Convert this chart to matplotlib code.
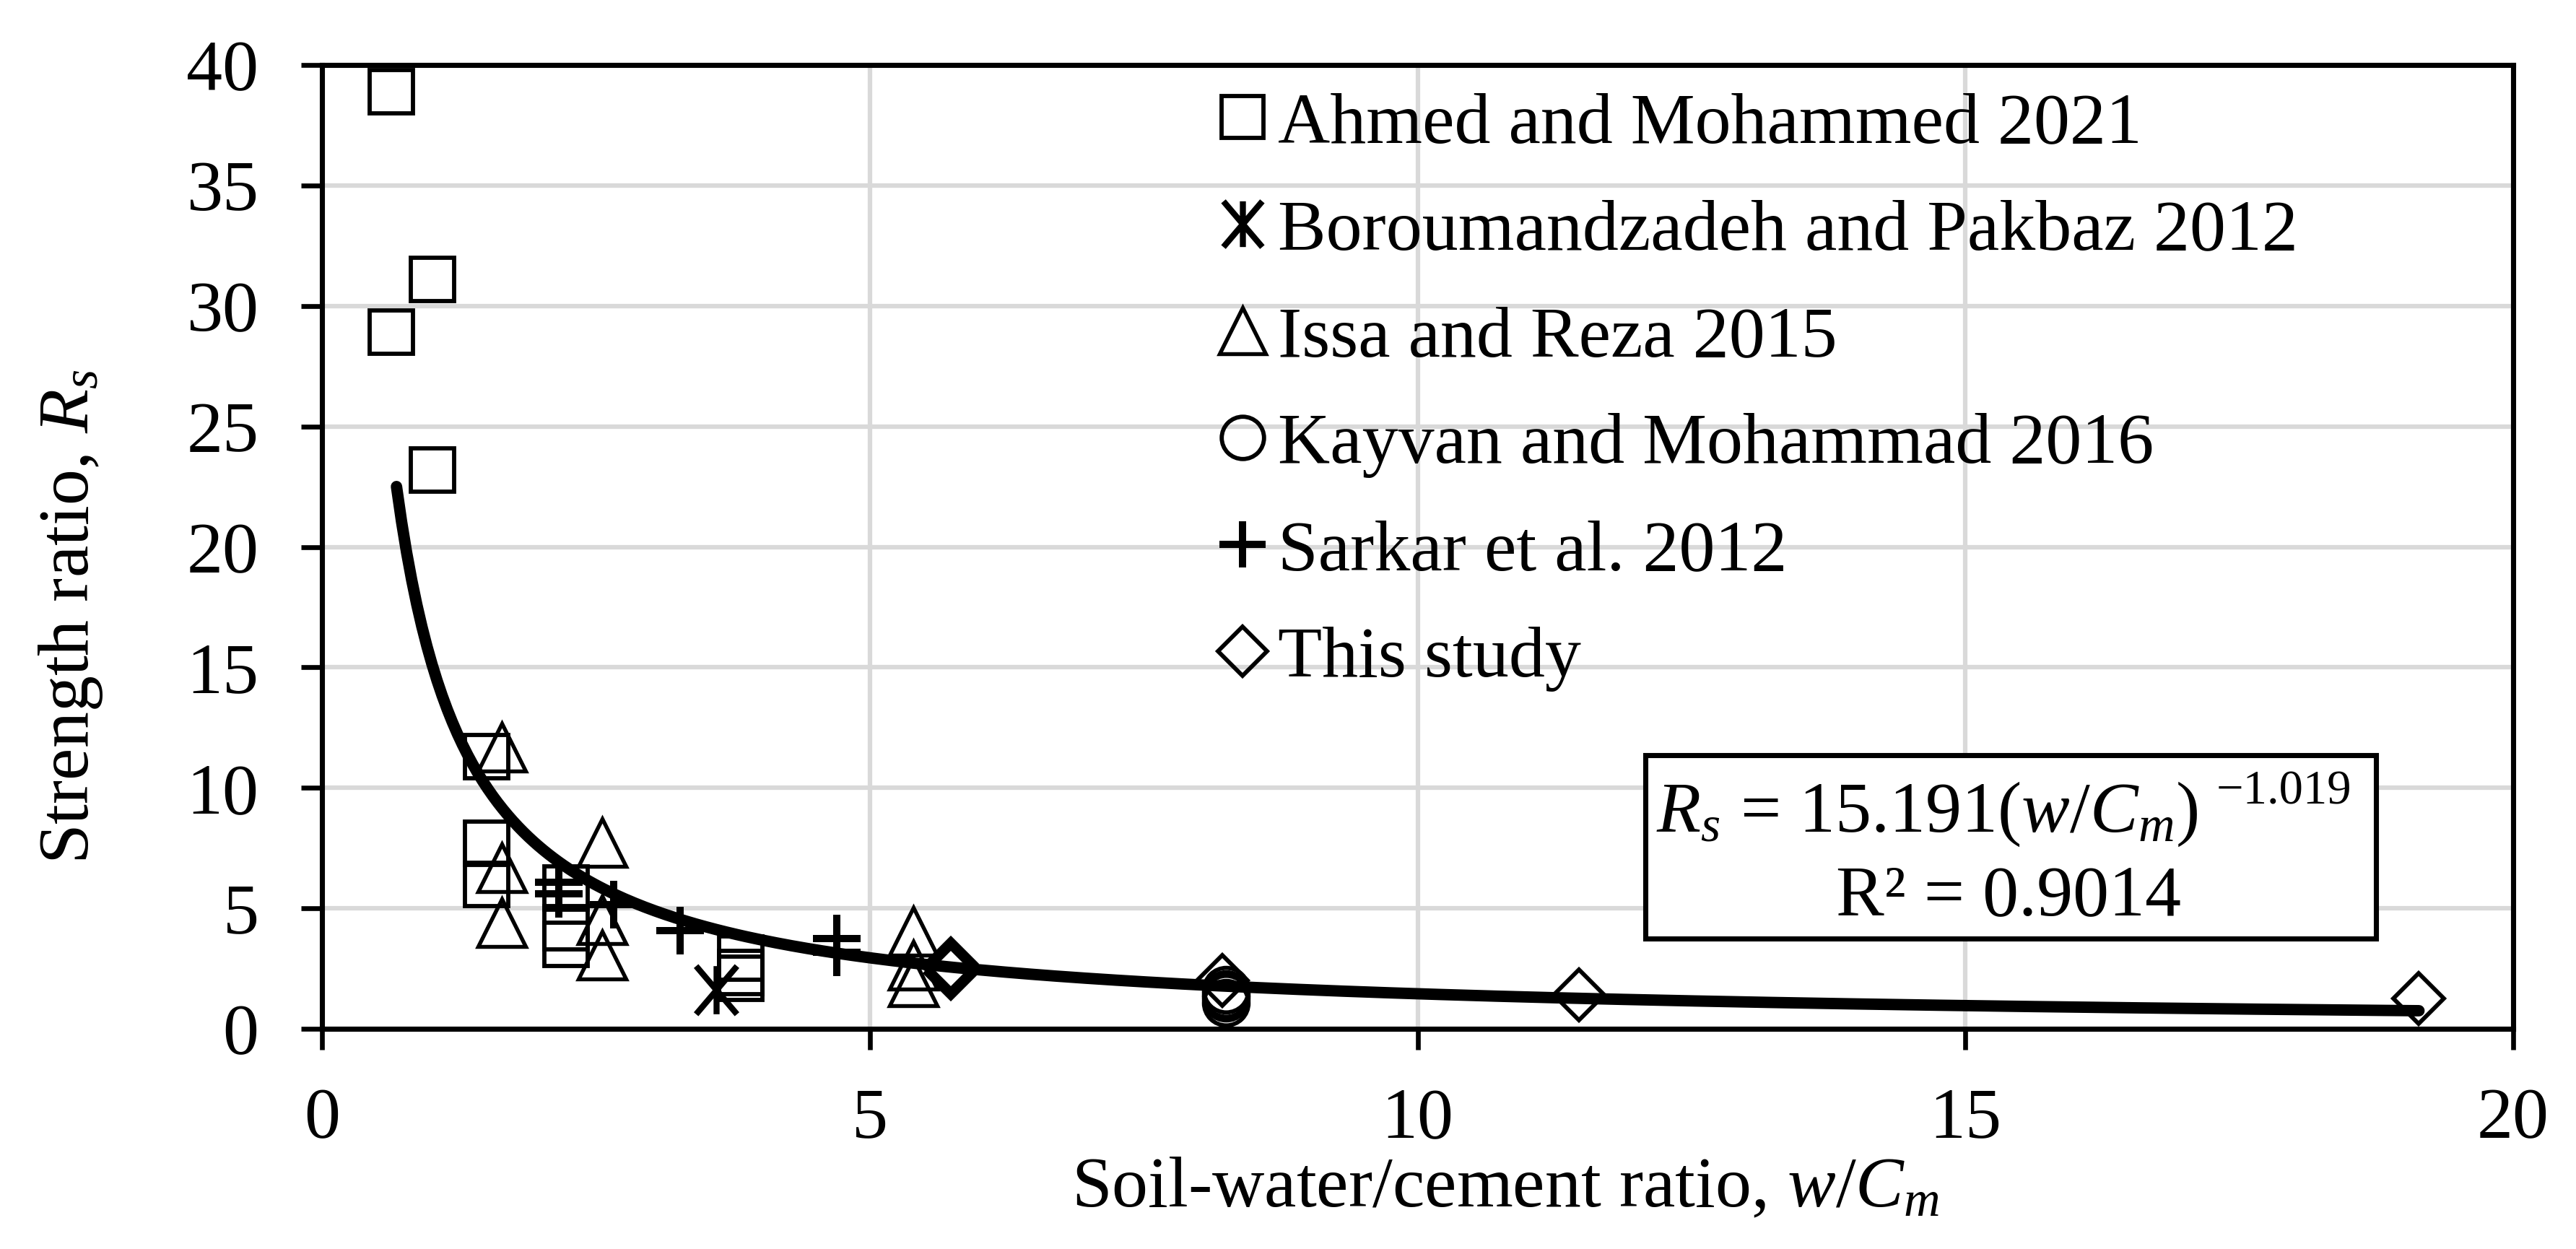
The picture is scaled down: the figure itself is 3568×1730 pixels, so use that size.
import numpy as np
import matplotlib
matplotlib.use("Agg")
import matplotlib.pyplot as plt
from matplotlib.path import Path
from matplotlib.patches import Rectangle

plt.rcParams['font.family'] = ['Liberation Serif', 'DejaVu Serif']
plt.rcParams['mathtext.fontset'] = 'custom'
plt.rcParams['mathtext.rm'] = 'Liberation Serif'
plt.rcParams['mathtext.it'] = 'Liberation Serif:italic'

# ---------------- data ----------------
ahmed_x = [0.63, 1.01, 0.63, 1.01, 1.50, 1.50, 1.50, 2.23, 2.23, 2.23, 3.82, 3.82, 3.82]
ahmed_y = [38.9, 31.1, 28.9, 23.2, 11.3, 7.7, 6.0, 5.85, 4.2, 3.5, 2.95, 2.35, 2.1]

boro_x = [3.60]
boro_y = [1.63]

issa_x = [1.64, 1.64, 1.64, 2.56, 2.56, 2.56, 5.40, 5.40, 5.40]
issa_y = [11.68, 6.67, 4.41, 7.72, 4.52, 3.07, 4.03, 2.63, 1.96]

kayvan_x = [8.25, 8.25, 8.25, 8.25]
kayvan_y = [1.62, 1.45, 1.30, 1.08]

sarkar_x = [2.16, 2.16, 2.66, 3.27, 4.70, 4.70]
sarkar_y = [6.09, 5.61, 5.14, 4.06, 3.74, 3.19]

study_x = [5.74, 5.74, 5.74, 8.22, 11.47, 19.14]
study_y = [2.70, 2.50, 2.30, 2.01, 1.42, 1.27]

fit_a = 15.191
fit_b = -1.019
fit_r2 = 0.9014
fit_x_start = 0.68

labels = ["Ahmed and Mohammed 2021", "Boroumandzadeh and Pakbaz 2012",
          "Issa and Reza 2015", "Kayvan and Mohammad 2016",
          "Sarkar et al. 2012", "This study"]

x_ticks = [0, 5, 10, 15, 20]
y_ticks = [0, 5, 10, 15, 20, 25, 30, 35, 40]

# ---------------- figure ----------------
W, H = 3568, 1730
DPI = 300
fig = plt.figure(figsize=(W / DPI, H / DPI), dpi=DPI)

def fx(px):
    return px / W

def fy(py):
    return 1 - py / H

L, R, T, B = 446, 3481, 90, 1425
ax = fig.add_axes([fx(L), fy(B), fx(R) - fx(L), fy(T) - fy(B)])

ax.set_xlim(0, 20)
ax.set_ylim(0, 40)
ax.set_xticks(x_ticks)
ax.set_yticks(y_ticks)
ax.grid(True, color='#D9D9D9', linewidth=1.5, zorder=0)
ax.set_axisbelow(True)
for s in ax.spines.values():
    s.set_linewidth(1.7)
    s.set_color('black')
ax.tick_params(axis='both', direction='out', length=7, width=1.6, labelsize=24,
               colors='black')
ax.tick_params(axis='y', pad=14)
ax.tick_params(axis='x', pad=12.5)

ast_path = Path([(0, -1), (0, 1), (-0.85, -1), (0.85, 1), (-0.85, 1), (0.85, -1)],
                [Path.MOVETO, Path.LINETO, Path.MOVETO, Path.LINETO, Path.MOVETO, Path.LINETO])

common = dict(linestyle='none', color='black', mfc='none', mec='black', zorder=3)
h1, = ax.plot(ahmed_x, ahmed_y, marker='s', ms=14.5, mew=1.4, label=labels[0], **common)
h2, = ax.plot(boro_x, boro_y, marker=ast_path, ms=16, mew=2.0, label=labels[1], **common)
h3, = ax.plot(issa_x, issa_y, marker='^', ms=16, mew=1.3, label=labels[2], **common)
h4, = ax.plot(kayvan_x, kayvan_y, marker='o', ms=14.8, mew=1.4, label=labels[3], **common)
h5, = ax.plot(sarkar_x, sarkar_y, marker='+', ms=16, mew=2.4, label=labels[4], **common)
h6, = ax.plot(study_x, study_y, marker='D', ms=12, mew=1.4, label=labels[5], **common)

all_x = ahmed_x + boro_x + issa_x + kayvan_x + sarkar_x + study_x
xf = np.linspace(fit_x_start, max(all_x), 400)
ax.plot(xf, fit_a * xf ** fit_b, color='black', linewidth=3.8, zorder=4,
        solid_capstyle='round')

# legend
leg = ax.legend(handles=[h1, h2, h3, h4, h5, h6], loc='upper left',
                bbox_to_anchor=(fx(1691), fy(127)), bbox_transform=fig.transFigure,
                frameon=False, fontsize=24, handlelength=0.6, handletextpad=0.19,
                borderpad=0, borderaxespad=0, labelspacing=0.57, markerscale=0.95)

# equation box
bx0, bx1, by0, by1 = 2279, 3291, 1046, 1300
rect = Rectangle((fx(bx0), fy(by1)), fx(bx1) - fx(bx0), fy(by0) - fy(by1),
                 transform=fig.transFigure, facecolor='white', edgecolor='black',
                 linewidth=1.7, zorder=5)
fig.add_artist(rect)
fig.text(fx(2294), fy(1152), r"$R_s$ = %.3f($w$/$C_m$)" % fit_a, fontsize=24,
         ha='left', va='baseline', zorder=6)
fig.text(fx(3070), fy(1113), "\u2212%.3f" % abs(fit_b), fontsize=16,
         ha='left', va='baseline', zorder=6)
fig.text(fx(2782), fy(1267), "R\u00b2 = %.4f" % fit_r2, fontsize=24,
         ha='center', va='baseline', zorder=6)

# axis labels
fig.text(fx(2085), fy(1671), r"Soil-water/cement ratio, $w/C_m$", fontsize=24,
         ha='center', va='baseline')
fig.text(fx(122), fy(854), r"Strength ratio, $R_s$", fontsize=24, rotation=90,
         rotation_mode='anchor', ha='center', va='baseline')

fig.savefig("out.png", dpi=DPI)
